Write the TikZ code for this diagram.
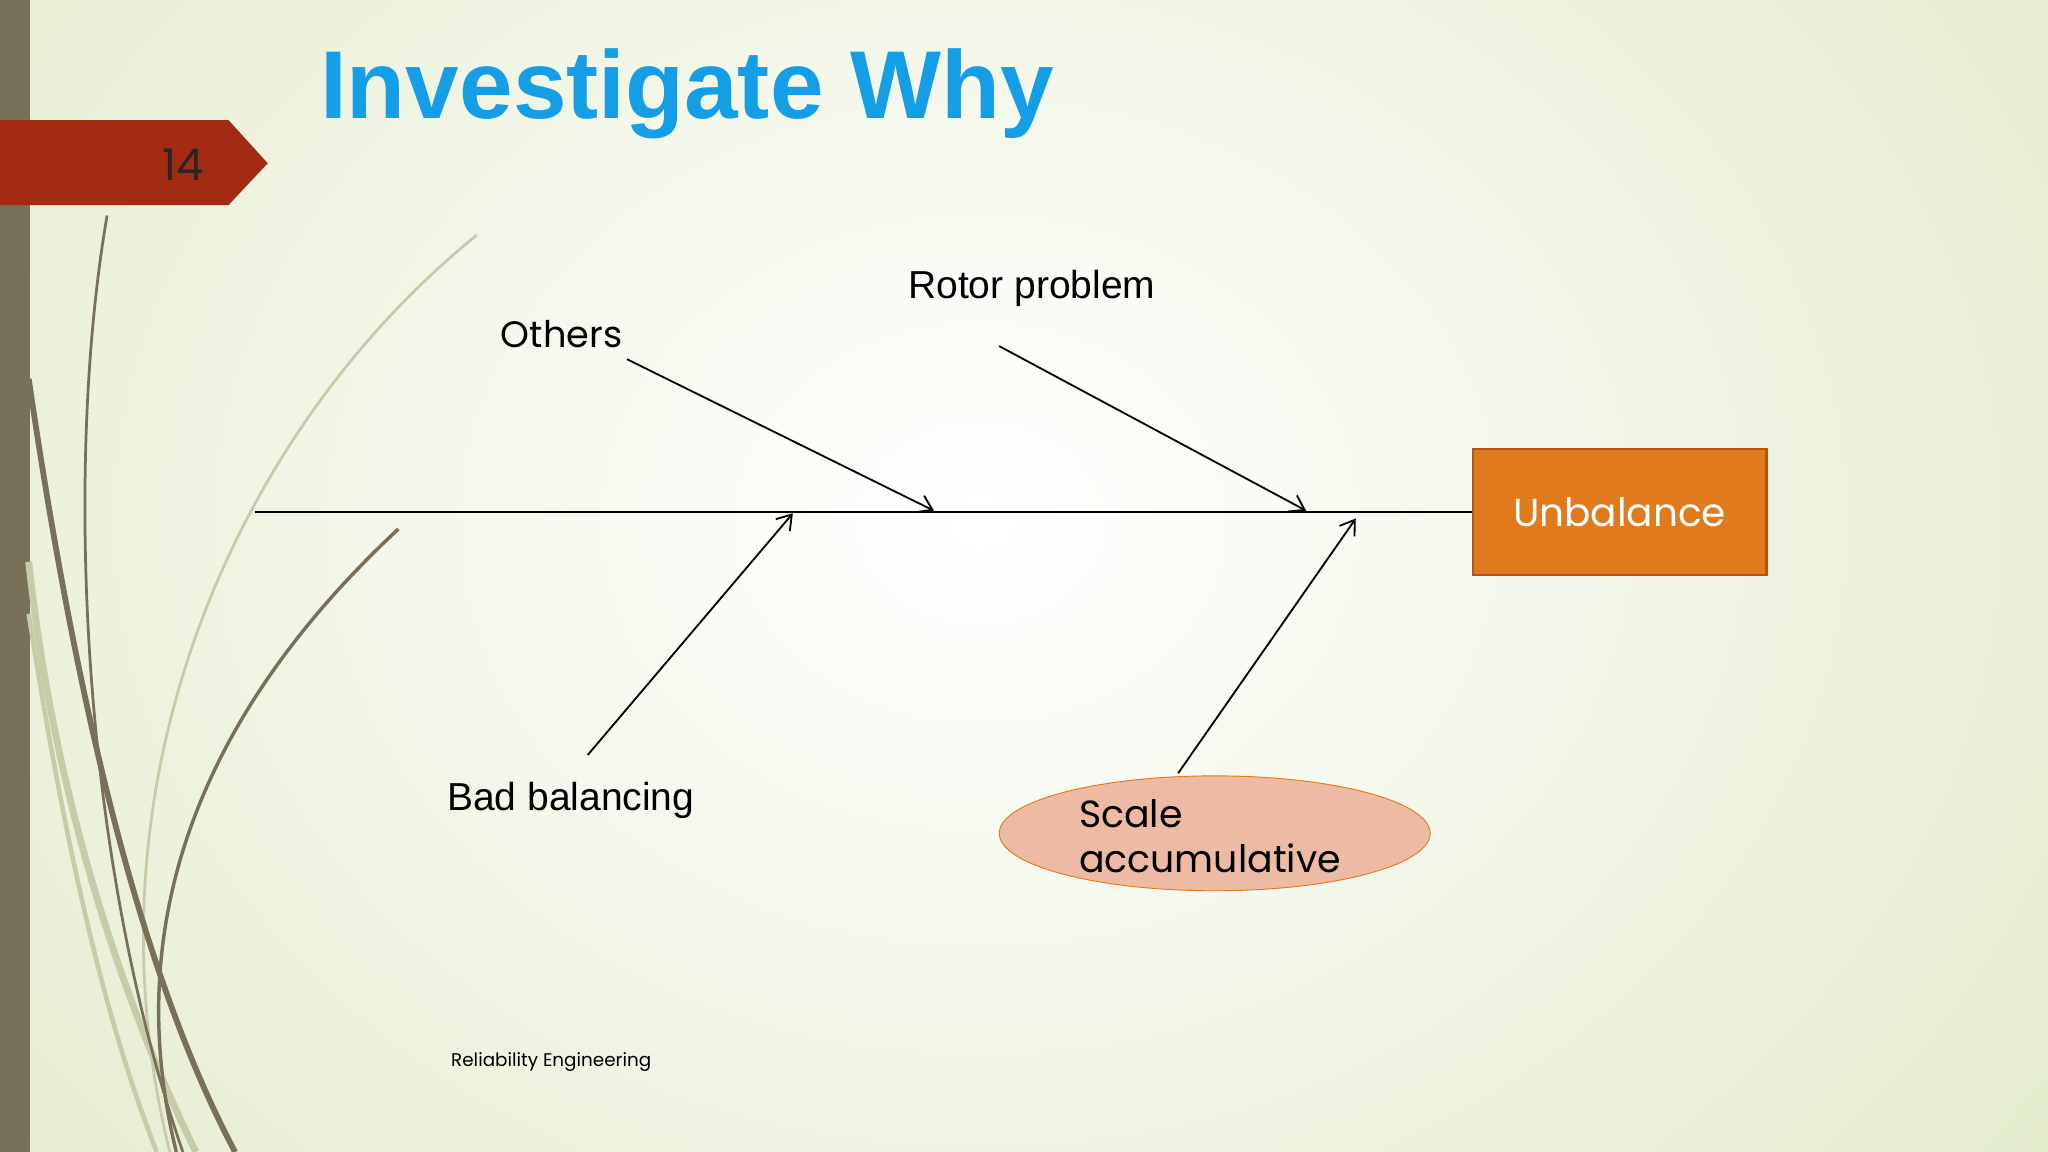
\documentclass[tikz,border=0pt]{standalone}
\usepackage{fontspec}
\setmainfont{Liberation Sans}
\newfontfamily\gothic{Poppins}
\usetikzlibrary{shapes.geometric,arrows.meta}
\definecolor{bgout}{rgb}{0.86,0.90,0.74}
\definecolor{olive}{rgb}{0.47,0.44,0.35}
\definecolor{tabred}{rgb}{0.64,0.17,0.08}
\definecolor{boxor}{rgb}{0.88,0.48,0.11}
\definecolor{boxbd}{rgb}{0.70,0.33,0.08}
\definecolor{ellf}{rgb}{0.93,0.73,0.64}
\definecolor{titleb}{rgb}{0.08,0.62,0.90}
\definecolor{curvl}{rgb}{0.78,0.80,0.66}
\tikzset{arr/.style={-{Straight Barb[length=6pt,width=8pt]},line width=0.8pt},
 lbl/.style={font=\fontsize{17}{20}\selectfont,text=black}}
\begin{document}
\begin{tikzpicture}[x=0.02cm,y=-0.02cm]
\useasboundingbox (0,0) rectangle (1568,882);
\shade[inner color=white,outer color=bgout] (-600,-700) rectangle (2100,1500);
\clip (0,0) rectangle (1568,882);
\fill[olive] (0,0) rectangle (23,882);
% decorative curves
\draw[curvl,line width=1.2pt] (365,180) .. controls (180,330) and (60,600) .. (130,882);
\draw[curvl,line width=3pt] (22,430) .. controls (40,600) and (90,760) .. (150,882);
\draw[olive,line width=1.2pt] (82,165) .. controls (50,350) and (60,650) .. (140,882);
\draw[olive,line width=2.5pt] (22,290) .. controls (60,550) and (110,750) .. (180,882);
\draw[olive,line width=1.5pt] (305,405) .. controls (160,540) and (90,700) .. (135,882);
\draw[curvl,line width=2pt] (22,470) .. controls (50,650) and (80,780) .. (120,882);
% tab
\fill[tabred] (0,92) -- (175,92) -- (205,125) -- (175,157) -- (0,157) -- cycle;
\node[font=\gothic\fontsize{19}{22}\selectfont,text=black!85] (num) at (140,126) {14};
\node[font=\bfseries\fontsize{42}{50}\selectfont,text=titleb] (title) at (526,72) {Investigate Why};
% spine
\node[draw=boxbd,line width=1pt,fill=boxor,minimum width=4.5cm,minimum height=1.94cm,font=\gothic\fontsize{17}{20}\selectfont,text=white] (unb) at (1240,392) {Unbalance};
\coordinate (tail) at (195,392);
\draw[line width=0.8pt] (tail) -- (unb.west);
\coordinate (o1) at (480,275); \coordinate (o2) at (715,391);
\coordinate (r1) at (765,265); \coordinate (r2) at (1000,391);
\coordinate (b1) at (450,578); \coordinate (b2) at (607,393);
\coordinate (s1) at (902,592); \coordinate (s2) at (1038,397);
\draw[arr] (o1) -- (o2);
\draw[arr] (r1) -- (r2);
\draw[arr] (b1) -- (b2);
\draw[arr] (s1) -- (s2);
\node[lbl,font=\gothic\fontsize{16}{19}\selectfont] (oth) at (430,256) {Others};
\node[lbl] (rot) at (790,221) {Rotor problem};
\node[lbl] (bad) at (437,613) {Bad balancing};
\node[ellipse,draw=boxor,fill=ellf,minimum width=6.6cm,minimum height=1.76cm,inner sep=0pt] (ell) at (930,638) {};
\node[lbl,font=\gothic\fontsize{16.5}{19.5}\selectfont,align=left,anchor=west] (scl) at (820,640) {Scale\\accumulative};
\node[font=\gothic\fontsize{8}{10}\selectfont] (foot) at (422,813) {Reliability Engineering};
\end{tikzpicture}
\end{document}
